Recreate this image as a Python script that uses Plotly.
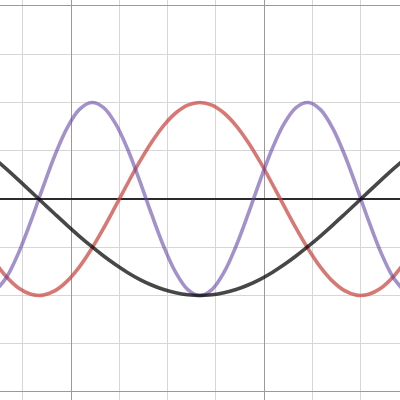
import plotly.graph_objects as go

# sample positions (graph units) and curve heights
x_vals = [2.42, 2.67, 2.92, 3.17, 3.42, 3.67, 3.92, 4.17, 4.42, 4.67, 4.92, 5.17,
          5.42, 5.67, 5.92, 6.17, 6.42, 6.67, 6.92, 7.17, 7.42, 7.67, 7.92, 8.17,
          8.42, 8.67, 8.92, 9.17, 9.42, 9.67, 9.92, 10.17, 10.42, 10.67, 10.92]

black_half = [-2.00, -1.986, -1.945, -1.877, -1.782, -1.664, -1.522, -1.359, -1.177,
              -0.979, -0.768, -0.546, -0.316, -0.082, 0.153, 0.386, 0.614, 0.833]
red_half = [2.00, 1.945, 1.782, 1.522, 1.177, 0.768, 0.316, -0.153, -0.614,
            -1.041, -1.411, -1.702, -1.900, -1.993, -1.976, -1.851, -1.623, -1.306]
purple_half = [-2.00, -1.877, -1.522, -0.979, -0.316, 0.386, 1.041, 1.567, 1.900,
               1.999, 1.851, 1.474, 0.916, 0.245, -0.456, -1.101, -1.611, -1.921]

# curves are symmetric about the middle sample
black_y = black_half[:0:-1] + black_half
red_y = red_half[:0:-1] + red_half
purple_y = purple_half[:0:-1] + purple_half

fig = go.Figure()
fig.add_trace(go.Scatter(x=x_vals, y=red_y, mode="lines", line_shape="spline",
                         line=dict(color="rgba(199,68,64,0.72)", width=3.6)))
fig.add_trace(go.Scatter(x=x_vals, y=purple_y, mode="lines", line_shape="spline",
                         line=dict(color="rgba(96,66,166,0.58)", width=3.6)))
fig.add_trace(go.Scatter(x=x_vals, y=black_y, mode="lines", line_shape="spline",
                         line=dict(color="rgba(0,0,0,0.72)", width=3.6)))

axis_style = dict(
    showticklabels=False, ticks="", showline=False,
    tick0=0, dtick=4, showgrid=True, gridcolor="#9a9a9a", gridwidth=1.4,
    minor=dict(tick0=0, dtick=1, showgrid=True, gridcolor="#d6d6d6", gridwidth=1.4),
)

fig.update_xaxes(range=[2.528, 10.819], zeroline=False, **axis_style)
fig.update_yaxes(range=[-4.166, 4.124], zeroline=True, zerolinecolor="#2b2b2b",
                 zerolinewidth=2, **axis_style)

fig.update_layout(width=400, height=400, margin=dict(l=0, r=0, t=0, b=0),
                  paper_bgcolor="white", plot_bgcolor="white", showlegend=False)

# drop the browser's default page margin so the chart fills the window
fig.write_html("out.html", config={"displayModeBar": False},
               post_script="document.body.style.margin='0';")
